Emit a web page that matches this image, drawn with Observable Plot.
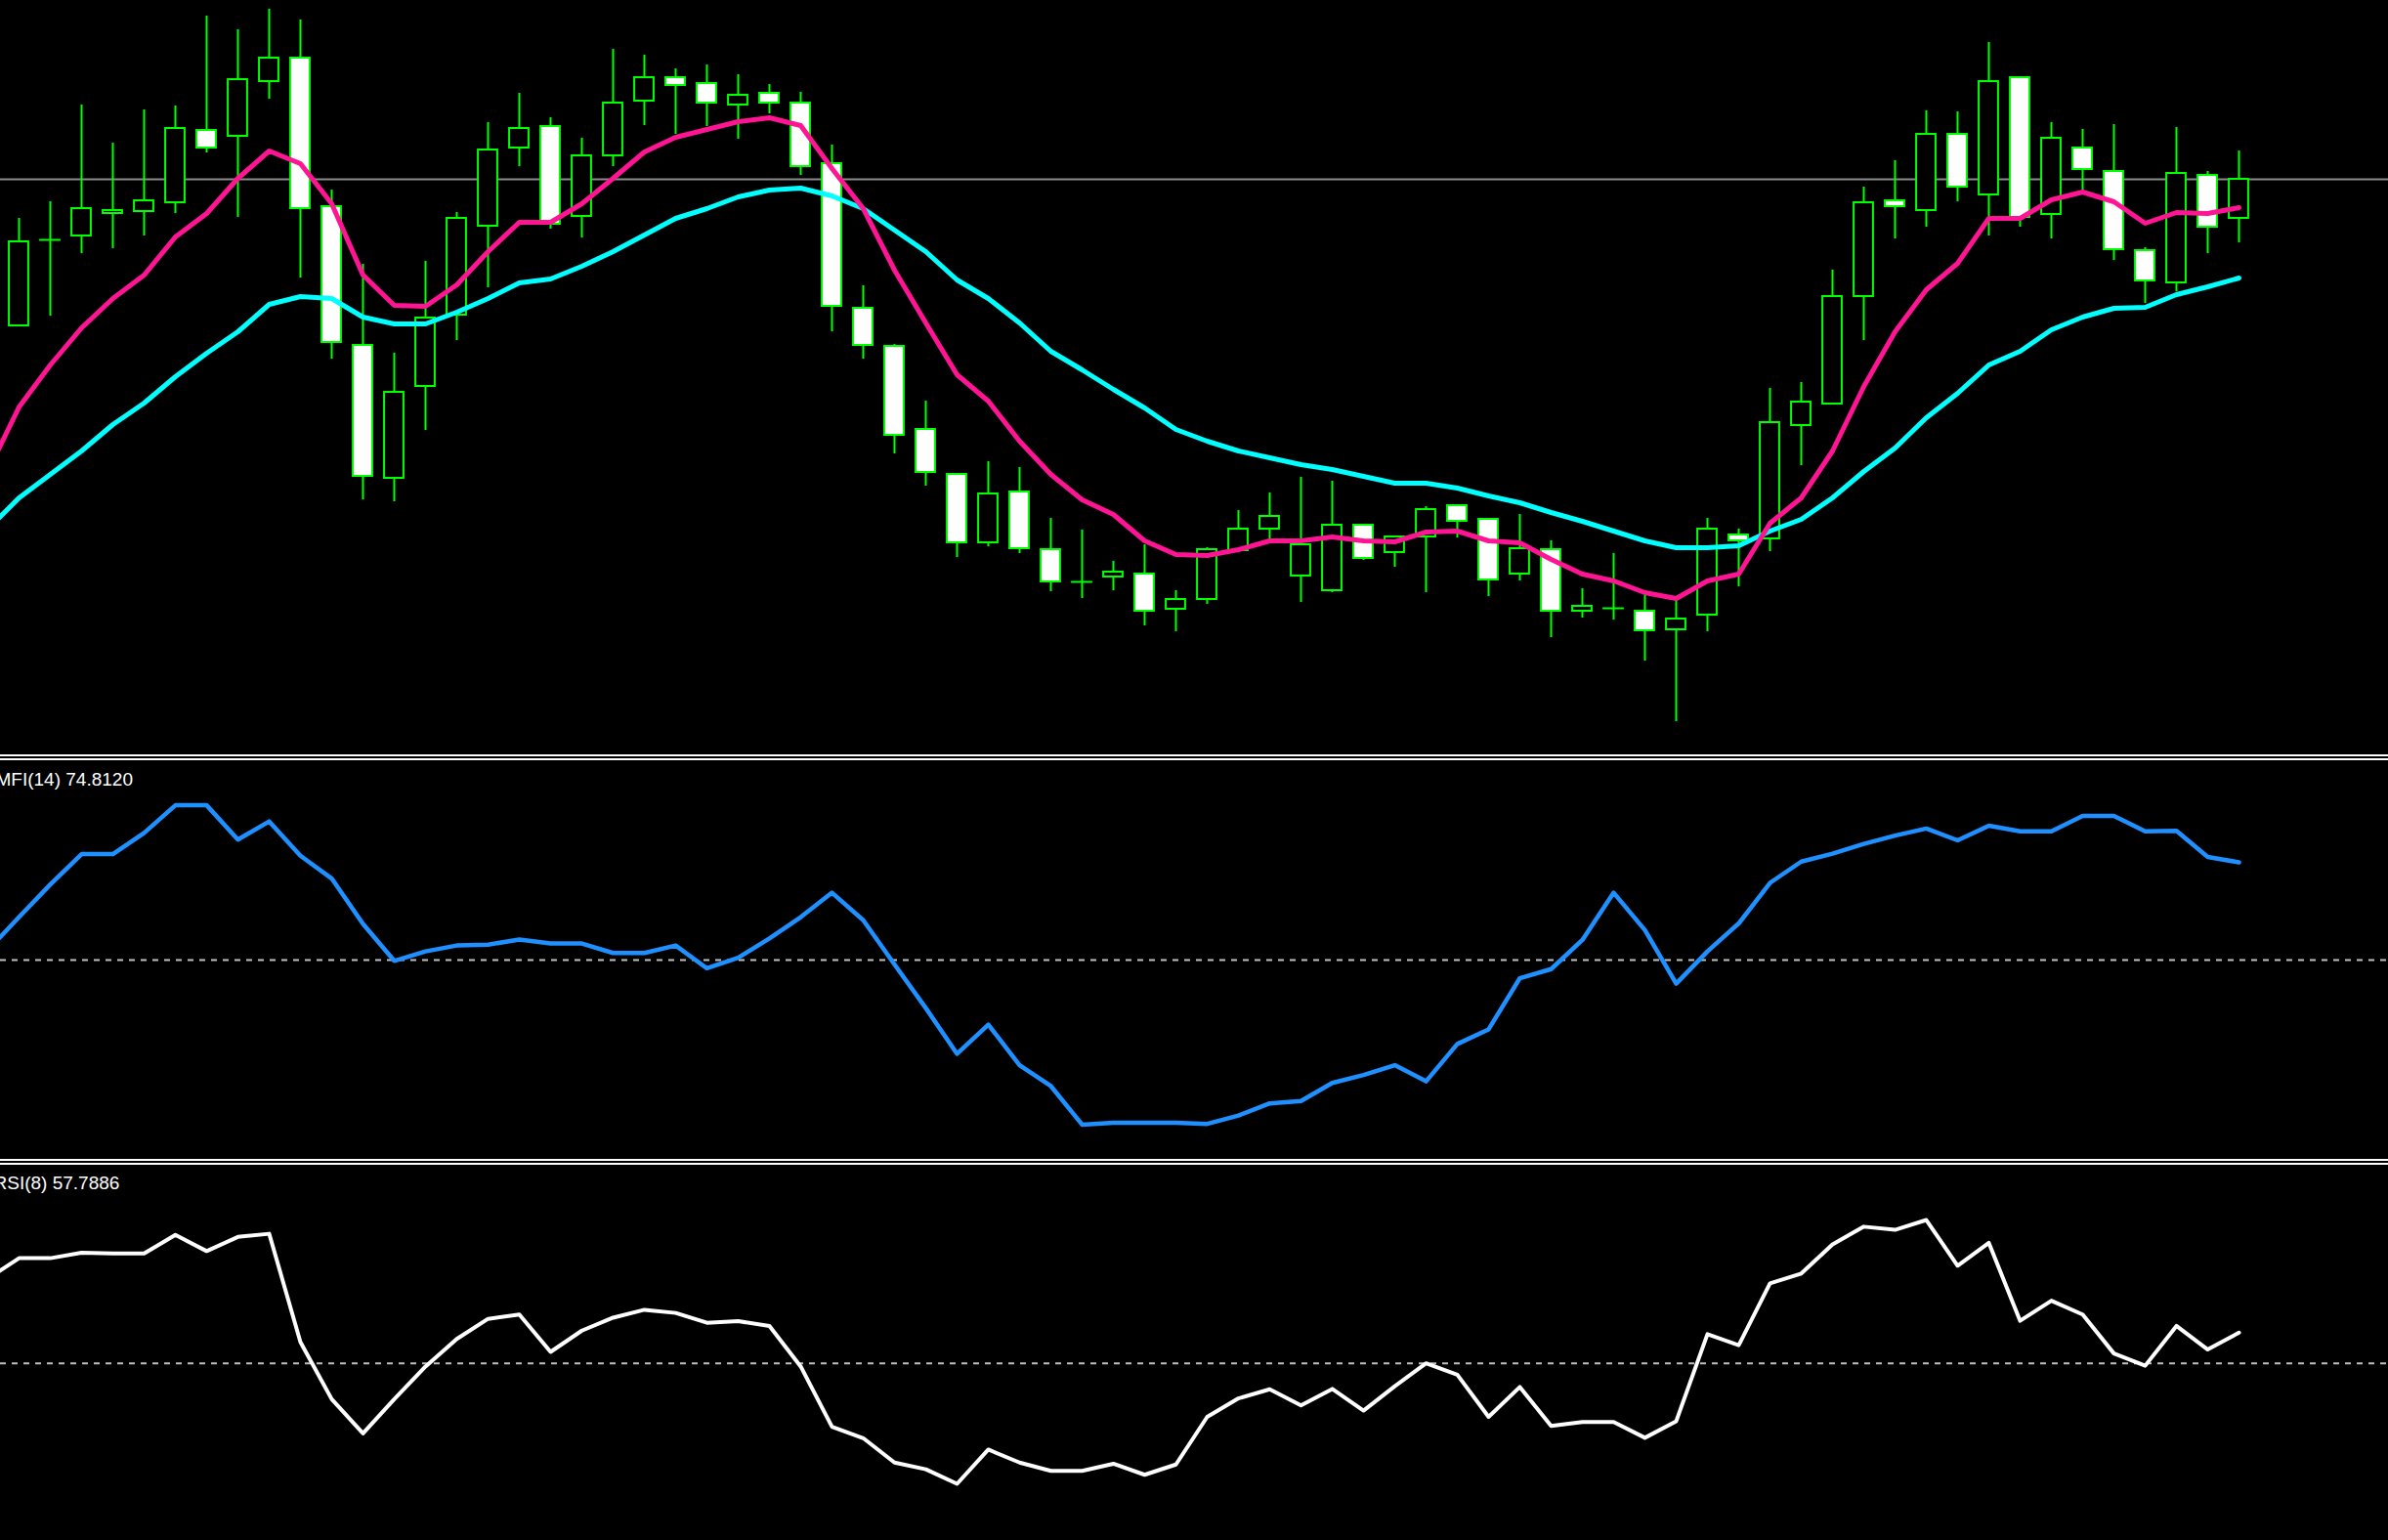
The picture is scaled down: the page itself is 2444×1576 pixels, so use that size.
<!DOCTYPE html>
<html><head><meta charset="utf-8">
<script src="https://cdn.jsdelivr.net/npm/d3@7"></script>
<script src="https://cdn.jsdelivr.net/npm/@observablehq/plot@0.6"></script>
<style>
html,body{margin:0;padding:0;background:#000;width:2444px;height:1576px;overflow:hidden;}
#chart{width:2444px;height:1576px;}
.sep{height:6px;box-sizing:border-box;border-top:2px solid #fff;border-bottom:2px solid #fff;background:#000;}
svg{display:block;}
</style></head><body><div id="chart"></div>
<script>
// ---- OHLC (72 bars) ----
const opens = [1.2667,1.2755,1.2759,1.2782,1.2784,1.2793,1.2867,1.2861,1.2917,1.2941,
1.2789,1.2647,1.2511,1.2605,1.2678,1.2769,1.2849,1.2871,1.2779,1.2841,
1.2897,1.2921,1.2915,1.2893,1.2905,1.2895,1.2833,1.2685,1.2646,1.2561,
1.2515,1.2445,1.2497,1.2438,1.2405,1.2410,1.2413,1.2377,1.2387,1.2437,
1.2459,1.2411,1.2396,1.2463,1.2435,1.2451,1.2483,1.2469,1.2413,1.2438,
1.2375,1.2378,1.2375,1.2356,1.2371,1.2453,1.2449,1.2565,1.2587,1.2697,
1.2795,1.2785,1.2863,1.2801,1.2921,1.2781,1.2849,1.2825,1.2744,1.2711,
1.2821,1.2777];
const highs = [1.2777,1.2794,1.2893,1.2854,1.2888,1.2892,1.2984,1.2970,1.2991,1.2980,
1.2806,1.2730,1.2639,1.2733,1.2783,1.2875,1.2905,1.2880,1.2859,1.2950,
1.2944,1.2930,1.2934,1.2924,1.2914,1.2906,1.2852,1.2708,1.2648,1.2590,
1.2515,1.2528,1.2522,1.2470,1.2458,1.2426,1.2443,1.2396,1.2440,1.2478,
1.2496,1.2512,1.2508,1.2463,1.2451,1.2482,1.2483,1.2469,1.2474,1.2447,
1.2398,1.2434,1.2392,1.2388,1.2470,1.2459,1.2603,1.2609,1.2724,1.2809,
1.2836,1.2887,1.2886,1.2957,1.2921,1.2875,1.2868,1.2873,1.2747,1.2870,
1.2825,1.2846];
const lows = [1.2667,1.2677,1.2741,1.2746,1.2759,1.2782,1.2844,1.2778,1.2899,1.2716,
1.2633,1.2489,1.2487,1.2560,1.2652,1.2706,1.2830,1.2766,1.2757,1.2830,
1.2872,1.2863,1.2871,1.2858,1.2884,1.2821,1.2661,1.2633,1.2536,1.2503,
1.2430,1.2441,1.2434,1.2395,1.2388,1.2396,1.2360,1.2354,1.2382,1.2435,
1.2447,1.2384,1.2394,1.2427,1.2420,1.2394,1.2450,1.2390,1.2406,1.2348,
1.2368,1.2366,1.2324,1.2262,1.2354,1.2400,1.2436,1.2524,1.2587,1.2652,
1.2756,1.2768,1.2794,1.2759,1.2768,1.2756,1.2806,1.2734,1.2690,1.2702,
1.2741,1.2752];
const closes = [1.2753,1.2755,1.2787,1.2785,1.2795,1.2869,1.2849,1.2919,1.2941,1.2787,
1.2650,1.2513,1.2599,1.2675,1.2777,1.2847,1.2869,1.2771,1.2841,1.2895,
1.2921,1.2913,1.2895,1.2903,1.2895,1.2830,1.2687,1.2647,1.2555,1.2517,
1.2445,1.2495,1.2439,1.2405,1.2405,1.2415,1.2375,1.2387,1.2438,1.2459,
1.2472,1.2443,1.2463,1.2429,1.2451,1.2479,1.2467,1.2407,1.2439,1.2375,
1.2380,1.2378,1.2355,1.2367,1.2459,1.2447,1.2568,1.2589,1.2697,1.2793,
1.2789,1.2863,1.2809,1.2917,1.2778,1.2859,1.2827,1.2745,1.2713,1.2823,
1.2768,1.2817];

// ---- indicator series: first value belongs to the bar just left of the window (index -1) ----
const maFast = [1.2518,1.2584,1.2627,1.2665,1.2695,1.2719,1.2758,1.2782,1.2818,1.2846,1.2833,
1.2792,1.2719,1.2688,1.2687,1.2709,1.2743,1.2773,1.2773,1.2792,1.2818,
1.2845,1.2860,1.2868,1.2876,1.2880,1.2872,1.2828,1.2787,1.2724,1.2670,
1.2617,1.2590,1.2549,1.2515,1.2489,1.2474,1.2447,1.2433,1.2432,1.2438,
1.2447,1.2447,1.2451,1.2447,1.2446,1.2456,1.2457,1.2447,1.2445,1.2428,
1.2413,1.2406,1.2394,1.2388,1.2406,1.2413,1.2465,1.2491,1.2539,1.2605,
1.2661,1.2704,1.2731,1.2777,1.2777,1.2796,1.2804,1.2794,1.2772,1.2783,
1.2782,1.2788];
const maSlow = [1.2459,1.2491,1.2515,1.2539,1.2566,1.2588,1.2615,1.2639,1.2661,1.2689,1.2697,
1.2695,1.2676,1.2669,1.2669,1.2681,1.2695,1.2711,1.2715,1.2728,1.2743,
1.2760,1.2777,1.2787,1.2799,1.2806,1.2808,1.2800,1.2787,1.2765,1.2743,
1.2714,1.2695,1.2670,1.2641,1.2622,1.2602,1.2583,1.2561,1.2549,1.2539,
1.2532,1.2525,1.2520,1.2513,1.2506,1.2506,1.2501,1.2493,1.2486,1.2476,
1.2467,1.2457,1.2447,1.2440,1.2440,1.2442,1.2457,1.2469,1.2491,1.2518,
1.2542,1.2573,1.2598,1.2627,1.2641,1.2663,1.2676,1.2685,1.2686,1.2699,
1.2707,1.2716];
const mfi = [52.5,60.9,69.2,76.9,76.9,82.3,89.3,89.3,80.6,85.2,76.5,
70.7,59.2,49.8,52.2,53.7,53.9,55.2,54.2,54.2,51.8,
51.8,53.7,47.9,50.6,55.5,60.9,67.1,60.1,48.9,37.8,
26.2,33.6,23.3,18.0,8.2,8.7,8.7,8.7,8.4,10.5,
13.6,14.2,18.8,20.8,23.3,19.2,28.7,32.4,45.4,47.7,
55.1,67.1,57.6,44.0,52.2,59.3,69.6,75.0,77.0,79.5,
81.6,83.4,80.4,84.1,82.7,82.7,86.6,86.6,82.7,82.8,
76.2,74.812];
const rsi = [71.5,76.7,76.7,78.1,77.9,77.9,82.6,78.5,82.1,82.9,55.4,
40.9,32.2,40.9,49.2,56.2,61.3,62.4,52.9,58.3,61.6,
63.6,62.8,60.3,60.7,59.5,49.2,33.9,31.0,24.8,23.1,
19.4,28.1,24.8,22.7,22.7,24.5,21.7,24.3,36.4,41.1,
43.4,39.3,43.5,38.0,44.2,50.0,47.1,36.4,44.0,34.1,
35.1,35.1,31.1,35.3,57.4,54.6,70.3,72.8,80.2,84.7,
83.9,86.4,74.8,80.6,60.8,65.9,62.4,52.5,49.4,59.5,
53.5,57.7886];
const mfiLabel = ["MFI(14) 74.8120"];
const rsiLabel = ["RSI(8) 57.7886"];
const midLevel = [50];

// ---- build tables ----
const W = 2444, barStep = 32, firstBarX = 19, halfBody = 0.31;
const candles = opens.map((o, i) => ({i, open: o, high: highs[i], low: lows[i], close: closes[i]}));
const lineRows = maFast.map((v, k) => ({i: k - 1, fast: v, slow: maSlow[k], mfi: mfi[k], rsi: rsi[k]}));
const xOpt = {type: "linear", domain: [-firstBarX / barStep, (W - firstBarX) / barStep], axis: null};
const green = "#00ff00";
const font = "'Liberation Sans', Arial, sans-serif";

const mainPlot = Plot.plot({
  width: W, height: 772, margin: 0,
  style: {background: "#000"},
  x: xOpt,
  y: {domain: [1.2228, 1.3], axis: null},
  marks: [
    Plot.ruleY([closes[closes.length - 1]], {stroke: "#8c8c8c", strokeWidth: 2}),
    Plot.ruleX(candles, {x: "i", y1: "low", y2: "high", stroke: green, strokeWidth: 2}),
    Plot.rect(candles.filter(d => d.open !== d.close), {
      x1: d => d.i - halfBody, x2: d => d.i + halfBody, y1: "open", y2: "close",
      fill: d => d.close > d.open ? "#000" : "#fff", stroke: green, strokeWidth: 2
    }),
    Plot.ruleY(candles.filter(d => d.open === d.close), {
      y: "close", x1: d => d.i - halfBody - 0.03, x2: d => d.i + halfBody + 0.03, stroke: green, strokeWidth: 2
    }),
    Plot.line(lineRows, {x: "i", y: "slow", stroke: "#00ffff", strokeWidth: 5, clip: true}),
    Plot.line(lineRows, {x: "i", y: "fast", stroke: "#ff1493", strokeWidth: 5, clip: true})
  ]
});

const mfiPlot = Plot.plot({
  width: W, height: 408, marginTop: 2.5, marginBottom: 2.5, marginLeft: 0, marginRight: 0,
  style: {background: "#000"},
  x: xOpt,
  y: {domain: [0, 100], axis: null},
  marks: [
    Plot.ruleY(midLevel, {stroke: "#c0c0c0", strokeWidth: 2, strokeDasharray: "6,6"}),
    Plot.line(lineRows, {x: "i", y: "mfi", stroke: "#1e90ff", strokeWidth: 4.5, clip: true}),
    Plot.text(mfiLabel, {text: d => d, frameAnchor: "top-left", textAnchor: "start", lineAnchor: "bottom",
      dx: -5, dy: 22.5, fill: "#fff", fontSize: 19, fontFamily: font})
  ]
});

const rsiPlot = Plot.plot({
  width: W, height: 384, margin: 0,
  style: {background: "#000"},
  x: xOpt,
  y: {domain: [5.01, 100.3], axis: null},
  marks: [
    Plot.ruleY(midLevel, {stroke: "#c0c0c0", strokeWidth: 2, strokeDasharray: "6,6"}),
    Plot.line(lineRows, {x: "i", y: "rsi", stroke: "#fff", strokeWidth: 4, clip: true}),
    Plot.text(rsiLabel, {text: d => d, frameAnchor: "top-left", textAnchor: "start", lineAnchor: "bottom",
      dx: -7, dy: 24.7, fill: "#fff", fontSize: 19, fontFamily: font})
  ]
});

const root = document.getElementById("chart");
const sep = () => { const d = document.createElement("div"); d.className = "sep"; return d; };
root.append(mainPlot, sep(), mfiPlot, sep(), rsiPlot);
</script></body></html>
